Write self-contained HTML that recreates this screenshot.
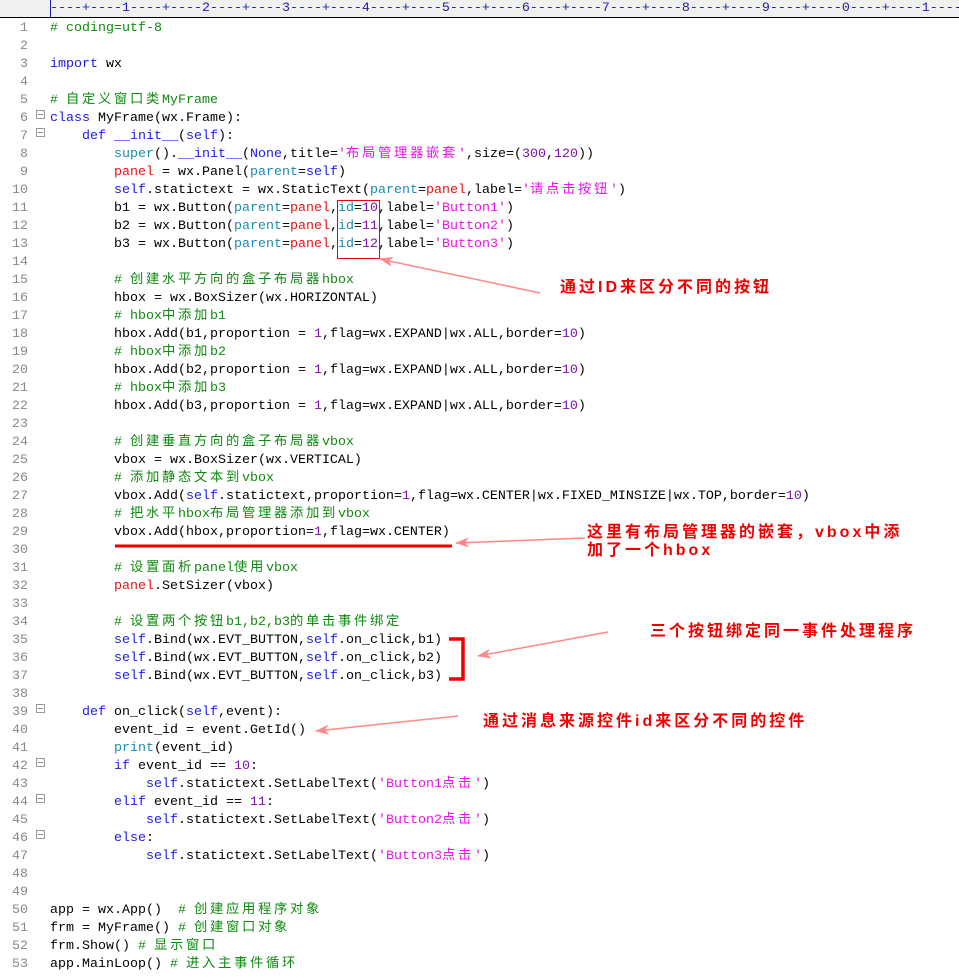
<!DOCTYPE html>
<html><head><meta charset="utf-8">
<style>
body{margin:0;width:959px;height:977px;background:#fff;overflow:hidden;position:relative;font-family:"Liberation Mono","Noto Sans CJK SC",monospace;font-size:13.33px;}
#ruler{position:absolute;left:0;top:0;width:959px;height:17px;background:#f0f0f0;border-bottom:1px solid #000;}
#ruler span{position:absolute;left:50px;top:1px;color:#2020b0;white-space:pre;line-height:16px;}
#ruler i{position:absolute;left:50px;top:0;width:1px;height:17px;background:#2020b0;}
#nums{position:absolute;left:0;top:20px;width:28px;text-align:right;color:#888;line-height:18px;white-space:pre;}
#code{position:absolute;left:50px;top:20px;white-space:pre;line-height:18px;color:#000;}
.f{position:absolute;left:36px;width:9px;height:9px;border:1px solid #999;box-sizing:border-box;}
.f:after{content:"";position:absolute;left:1px;top:3px;width:5px;height:1px;background:#888;}
.k{color:#1a1af0}.t{color:#1a8cb0}.s{color:#f010f0}.n{color:#8010b0}.c{color:#108a10}.r{color:#f01010}
.j{letter-spacing:2.67px}
.a{position:absolute;color:#f00000;font-family:"Liberation Sans","Noto Sans CJK SC",sans-serif;font-size:16px;font-weight:bold;letter-spacing:3px;line-height:18px;white-space:nowrap}
</style></head><body>
<div id="ruler"><i></i><span>----+----1----+----2----+----3----+----4----+----5----+----6----+----7----+----8----+----9----+----0----+----1----</span></div>
<div id="nums">1
2
3
4
5
6
7
8
9
10
11
12
13
14
15
16
17
18
19
20
21
22
23
24
25
26
27
28
29
30
31
32
33
34
35
36
37
38
39
40
41
42
43
44
45
46
47
48
49
50
51
52
53</div>
<div class="f" style="top:110px"></div>
<div class="f" style="top:128px"></div>
<div class="f" style="top:704px"></div>
<div class="f" style="top:758px"></div>
<div class="f" style="top:794px"></div>
<div class="f" style="top:830px"></div>
<div id="code"><span class="c"># coding=utf-8</span>

<span class="k">import</span> wx

<span class="c"># <span class="j">自定义窗口类</span>MyFrame</span>
<span class="k">class</span> MyFrame(wx.Frame):
    <span class="k">def</span> <span class="k">__init__</span>(<span class="k">self</span>):
        <span class="t">super</span>().<span class="k">__init__</span>(<span class="k">None</span>,title=<span class="s">'<span class="j">布局管理器嵌套</span>'</span>,size=(<span class="n">300</span>,<span class="n">120</span>))
        <span class="r">panel</span> = wx.Panel(<span class="t">parent</span>=<span class="k">self</span>)
        <span class="k">self</span>.statictext = wx.StaticText(<span class="t">parent</span>=<span class="r">panel</span>,label=<span class="s">'<span class="j">请点击按钮</span>'</span>)
        b1 = wx.Button(<span class="t">parent</span>=<span class="r">panel</span>,<span class="t">id</span>=<span class="n">10</span>,label=<span class="s">'Button1'</span>)
        b2 = wx.Button(<span class="t">parent</span>=<span class="r">panel</span>,<span class="t">id</span>=<span class="n">11</span>,label=<span class="s">'Button2'</span>)
        b3 = wx.Button(<span class="t">parent</span>=<span class="r">panel</span>,<span class="t">id</span>=<span class="n">12</span>,label=<span class="s">'Button3'</span>)

        <span class="c"># <span class="j">创建水平方向的盒子布局器</span>hbox</span>
        hbox = wx.BoxSizer(wx.HORIZONTAL)
        <span class="c"># hbox<span class="j">中添加</span>b1</span>
        hbox.Add(b1,proportion = <span class="n">1</span>,flag=wx.EXPAND|wx.ALL,border=<span class="n">10</span>)
        <span class="c"># hbox<span class="j">中添加</span>b2</span>
        hbox.Add(b2,proportion = <span class="n">1</span>,flag=wx.EXPAND|wx.ALL,border=<span class="n">10</span>)
        <span class="c"># hbox<span class="j">中添加</span>b3</span>
        hbox.Add(b3,proportion = <span class="n">1</span>,flag=wx.EXPAND|wx.ALL,border=<span class="n">10</span>)

        <span class="c"># <span class="j">创建垂直方向的盒子布局器</span>vbox</span>
        vbox = wx.BoxSizer(wx.VERTICAL)
        <span class="c"># <span class="j">添加静态文本到</span>vbox</span>
        vbox.Add(<span class="k">self</span>.statictext,proportion=<span class="n">1</span>,flag=wx.CENTER|wx.FIXED_MINSIZE|wx.TOP,border=<span class="n">10</span>)
        <span class="c"># <span class="j">把水平</span>hbox<span class="j">布局管理器添加到</span>vbox</span>
        vbox.Add(hbox,proportion=<span class="n">1</span>,flag=wx.CENTER)

        <span class="c"># <span class="j">设置面析</span>panel<span class="j">使用</span>vbox</span>
        <span class="r">panel</span>.SetSizer(vbox)

        <span class="c"># <span class="j">设置两个按钮</span>b1,b2,b3<span class="j">的单击事件绑定</span></span>
        <span class="k">self</span>.Bind(wx.EVT_BUTTON,<span class="k">self</span>.on_click,b1)
        <span class="k">self</span>.Bind(wx.EVT_BUTTON,<span class="k">self</span>.on_click,b2)
        <span class="k">self</span>.Bind(wx.EVT_BUTTON,<span class="k">self</span>.on_click,b3)

    <span class="k">def</span> on_click(<span class="k">self</span>,event):
        event_id = event.GetId()
        <span class="t">print</span>(event_id)
        <span class="k">if</span> event_id == <span class="n">10</span>:
            <span class="k">self</span>.statictext.SetLabelText(<span class="s">'Button1<span class="j">点击</span>'</span>)
        <span class="k">elif</span> event_id == <span class="n">11</span>:
            <span class="k">self</span>.statictext.SetLabelText(<span class="s">'Button2<span class="j">点击</span>'</span>)
        <span class="k">else</span>:
            <span class="k">self</span>.statictext.SetLabelText(<span class="s">'Button3<span class="j">点击</span>'</span>)


app = wx.App()  <span class="c"># <span class="j">创建应用程序对象</span></span>
frm = MyFrame() <span class="c"># <span class="j">创建窗口对象</span></span>
frm.Show() <span class="c"># <span class="j">显示窗口</span></span>
app.MainLoop() <span class="c"># <span class="j">进入主事件循环</span></span></div>
<svg width="959" height="977" style="position:absolute;left:0;top:0">
<defs><marker id="ar" markerWidth="14" markerHeight="10" refX="13" refY="5" orient="auto" markerUnits="userSpaceOnUse"><path d="M0,0 L14,5 L0,10 L4,5 Z" fill="#f88"/></marker></defs>
<rect x="337.5" y="200.5" width="42" height="58" fill="none" stroke="#e00" stroke-width="1"/>
<line x1="540" y1="293" x2="380" y2="259" stroke="#f88" stroke-width="1.5" marker-end="url(#ar)"/>
<line x1="115" y1="546" x2="452" y2="546" stroke="#e00" stroke-width="3"/>
<line x1="585" y1="538" x2="456" y2="543" stroke="#f88" stroke-width="1.5" marker-end="url(#ar)"/>
<path d="M449,639 H463 V679 H449" fill="none" stroke="#e00" stroke-width="3.5"/>
<line x1="608" y1="632" x2="478" y2="656" stroke="#f88" stroke-width="1.5" marker-end="url(#ar)"/>
<line x1="458" y1="716" x2="316" y2="731" stroke="#f88" stroke-width="1.5" marker-end="url(#ar)"/>
</svg>
<div class="a" style="left:560px;top:279px">通过ID来区分不同的按钮</div>
<div class="a" style="left:587px;top:524px">这里有布局管理器的嵌套，vbox中添</div>
<div class="a" style="left:587px;top:542px">加了一个hbox</div>
<div class="a" style="left:650px;top:623px">三个按钮绑定同一事件处理程序</div>
<div class="a" style="left:483px;top:713px">通过消息来源控件id来区分不同的控件</div>
</body></html>
